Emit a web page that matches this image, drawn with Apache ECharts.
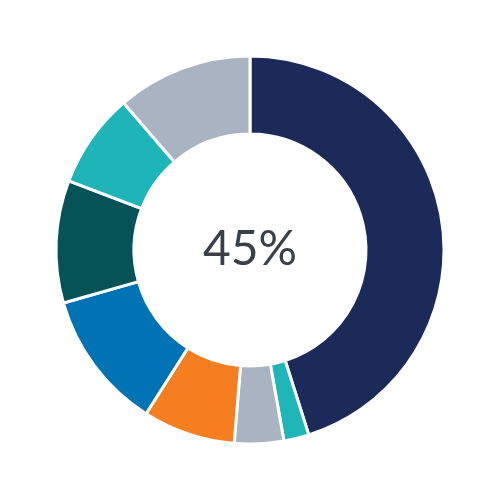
<!DOCTYPE html>
<html><head><meta charset="utf-8">
<script src="https://cdn.jsdelivr.net/npm/echarts@6/dist/echarts.min.js"></script>
<style>html,body{margin:0;padding:0;background:#fff}#c{width:500px;height:500px}</style>
</head><body><div id="c"></div>
<script>
var categories = ['A','B','C','D','E','F','G','H'];
var values = [45.1, 2.1, 4.1, 7.7, 11.6, 10.2, 7.9, 11.3];
var colors = ['#1c2a5a','#20b6b7','#a9b3c1','#f47e20','#0073b4','#055356','#1fb5b8','#a9b3c1'];
var centerLabel = '45%';
var chart = echarts.init(document.getElementById('c'));
chart.setOption({
  animation: false,
  title: { text: centerLabel, left: 'center', top: 'middle',
    textStyle: { fontFamily: 'Lato', fontWeight: 'normal', fontSize: 48, color: '#3b3f48' } },
  series: [{
    type: 'pie', radius: [116, 194], center: [250, 250], startAngle: 90, clockwise: true,
    label: { show: false }, labelLine: { show: false },
    itemStyle: { borderColor: '#fff', borderWidth: 3 },
    data: categories.map(function(c, i){ return { name: c, value: values[i], itemStyle: { color: colors[i] } }; })
  }]
});
</script></body></html>
